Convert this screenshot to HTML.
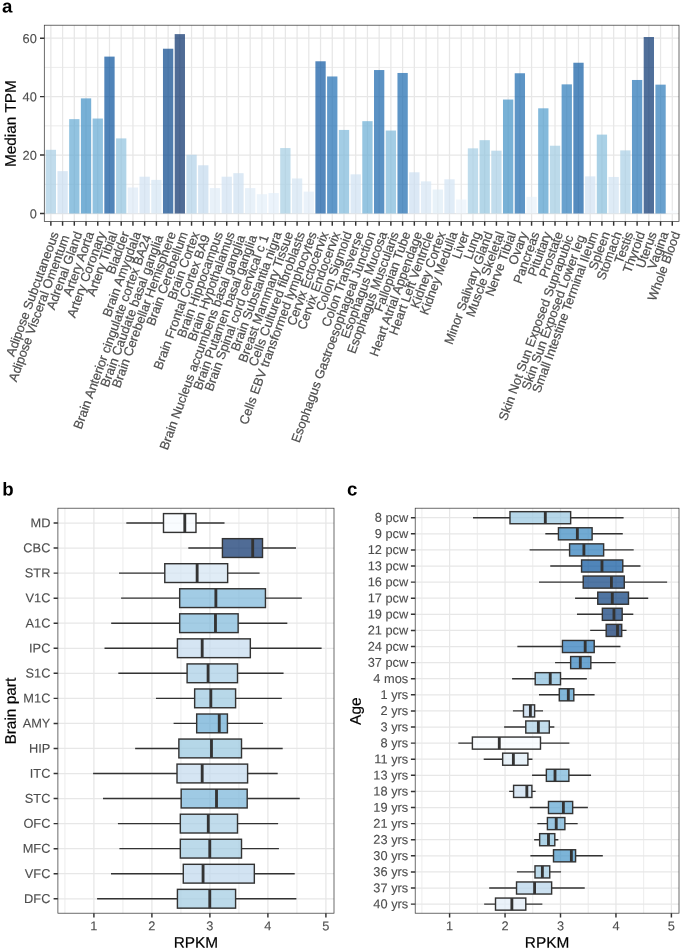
<!DOCTYPE html>
<html lang="en"><head><meta charset="utf-8"><title>Figure</title>
<style>html,body{margin:0;padding:0;background:#fff}svg{display:block}</style></head>
<body>
<svg width="685" height="951" viewBox="0 0 685 951" text-rendering="geometricPrecision">
<rect width="685" height="951" fill="#fff"/>
<rect x="44.3" y="25.2" width="634.7" height="196.2" fill="#fff"/>
<path d="M44.3 184.28H679.0M44.3 125.85H679.0M44.3 67.41H679.0" stroke="#e7e7e7" stroke-width="0.8" fill="none"/>
<path d="M44.3 213.5H679.0M44.3 155.07H679.0M44.3 96.63H679.0M44.3 38.2H679.0M50.86 25.2V221.4M62.59 25.2V221.4M74.31 25.2V221.4M86.03 25.2V221.4M97.76 25.2V221.4M109.48 25.2V221.4M121.21 25.2V221.4M132.94 25.2V221.4M144.66 25.2V221.4M156.38 25.2V221.4M168.11 25.2V221.4M179.83 25.2V221.4M191.56 25.2V221.4M203.28 25.2V221.4M215.01 25.2V221.4M226.74 25.2V221.4M238.46 25.2V221.4M250.19 25.2V221.4M261.91 25.2V221.4M273.63 25.2V221.4M285.36 25.2V221.4M297.08 25.2V221.4M308.81 25.2V221.4M320.54 25.2V221.4M332.26 25.2V221.4M343.99 25.2V221.4M355.71 25.2V221.4M367.44 25.2V221.4M379.16 25.2V221.4M390.88 25.2V221.4M402.61 25.2V221.4M414.33 25.2V221.4M426.06 25.2V221.4M437.79 25.2V221.4M449.51 25.2V221.4M461.24 25.2V221.4M472.96 25.2V221.4M484.69 25.2V221.4M496.41 25.2V221.4M508.13 25.2V221.4M519.86 25.2V221.4M531.58 25.2V221.4M543.31 25.2V221.4M555.03 25.2V221.4M566.76 25.2V221.4M578.49 25.2V221.4M590.21 25.2V221.4M601.93 25.2V221.4M613.66 25.2V221.4M625.38 25.2V221.4M637.11 25.2V221.4M648.84 25.2V221.4M660.56 25.2V221.4M672.28 25.2V221.4" stroke="#e7e7e7" stroke-width="1.25" fill="none"/>
<g fill-opacity="0.71">
<rect x="45.71" y="149.81" width="10.3" height="63.69" fill="#a8cee4"/>
<rect x="57.44" y="171.14" width="10.3" height="42.36" fill="#cbdef1"/>
<rect x="69.16" y="119.13" width="10.3" height="94.37" fill="#65aad4"/>
<rect x="80.88" y="98.39" width="10.3" height="115.11" fill="#3f8fc5"/>
<rect x="92.61" y="118.54" width="10.3" height="94.96" fill="#64a9d3"/>
<rect x="104.33" y="56.6" width="10.3" height="156.9" fill="#08529c"/>
<rect x="116.06" y="138.41" width="10.3" height="75.09" fill="#90c2de"/>
<rect x="127.78" y="187.5" width="10.3" height="26" fill="#ddeaf7"/>
<rect x="139.51" y="176.69" width="10.3" height="36.81" fill="#d1e2f3"/>
<rect x="151.23" y="179.9" width="10.3" height="33.6" fill="#d5e5f4"/>
<rect x="162.96" y="48.72" width="10.3" height="164.78" fill="#08468b"/>
<rect x="174.68" y="34.11" width="10.3" height="179.39" fill="#08306b"/>
<rect x="186.41" y="154.77" width="10.3" height="58.73" fill="#b1d2e8"/>
<rect x="198.13" y="165.29" width="10.3" height="48.21" fill="#c4daee"/>
<rect x="209.86" y="188.08" width="10.3" height="25.42" fill="#deebf7"/>
<rect x="221.59" y="176.69" width="10.3" height="36.81" fill="#d1e2f3"/>
<rect x="233.31" y="173.18" width="10.3" height="40.32" fill="#cde0f1"/>
<rect x="245.03" y="188.08" width="10.3" height="25.42" fill="#deebf7"/>
<rect x="256.76" y="194.22" width="10.3" height="19.28" fill="#e4eff9"/>
<rect x="268.49" y="193.05" width="10.3" height="20.45" fill="#e3eef9"/>
<rect x="280.21" y="148.05" width="10.3" height="65.45" fill="#a5cde3"/>
<rect x="291.94" y="178.44" width="10.3" height="35.06" fill="#d3e4f3"/>
<rect x="303.66" y="191.59" width="10.3" height="21.91" fill="#e1edf8"/>
<rect x="315.39" y="61.28" width="10.3" height="152.22" fill="#0e58a2"/>
<rect x="327.11" y="76.47" width="10.3" height="137.03" fill="#1f6eb3"/>
<rect x="338.84" y="129.94" width="10.3" height="83.56" fill="#7db8da"/>
<rect x="350.56" y="174.35" width="10.3" height="39.15" fill="#cfe1f2"/>
<rect x="362.29" y="121.17" width="10.3" height="92.33" fill="#69add5"/>
<rect x="374.01" y="70.04" width="10.3" height="143.46" fill="#1865ac"/>
<rect x="385.74" y="130.52" width="10.3" height="82.98" fill="#7eb8da"/>
<rect x="397.46" y="72.97" width="10.3" height="140.53" fill="#1b69af"/>
<rect x="409.19" y="172.3" width="10.3" height="41.2" fill="#ccdff1"/>
<rect x="420.91" y="181.36" width="10.3" height="32.14" fill="#d6e6f4"/>
<rect x="432.64" y="189.54" width="10.3" height="23.96" fill="#dfecf7"/>
<rect x="444.36" y="179.32" width="10.3" height="34.18" fill="#d4e4f4"/>
<rect x="456.09" y="199.48" width="10.3" height="14.02" fill="#eaf3fb"/>
<rect x="467.81" y="148.35" width="10.3" height="65.15" fill="#a5cde4"/>
<rect x="479.54" y="140.17" width="10.3" height="73.33" fill="#94c5df"/>
<rect x="491.26" y="150.68" width="10.3" height="62.82" fill="#a9cfe5"/>
<rect x="502.99" y="99.55" width="10.3" height="113.95" fill="#4191c5"/>
<rect x="514.71" y="73.26" width="10.3" height="140.24" fill="#1b6aaf"/>
<rect x="526.43" y="196.85" width="10.3" height="16.65" fill="#e7f1fa"/>
<rect x="538.16" y="108.32" width="10.3" height="105.18" fill="#519ccc"/>
<rect x="549.88" y="145.72" width="10.3" height="67.78" fill="#a0cbe2"/>
<rect x="561.61" y="84.36" width="10.3" height="129.14" fill="#2a7aba"/>
<rect x="573.34" y="62.74" width="10.3" height="150.76" fill="#0f5ba3"/>
<rect x="585.06" y="176.39" width="10.3" height="37.11" fill="#d1e2f3"/>
<rect x="596.78" y="134.61" width="10.3" height="78.89" fill="#87bedc"/>
<rect x="608.51" y="176.98" width="10.3" height="36.52" fill="#d1e3f3"/>
<rect x="620.24" y="150.39" width="10.3" height="63.11" fill="#a9cfe5"/>
<rect x="631.96" y="79.98" width="10.3" height="133.52" fill="#2474b6"/>
<rect x="643.69" y="37.03" width="10.3" height="176.47" fill="#083471"/>
<rect x="655.41" y="84.65" width="10.3" height="128.85" fill="#2b7bba"/>
<rect x="667.13" y="210.58" width="10.3" height="2.92" fill="#f7fbff"/>
</g>
<rect x="44.3" y="25.2" width="634.7" height="196.2" fill="none" stroke="#333333" stroke-width="0.72"/>
<path d="M40 213.5H44.3M40 155.07H44.3M40 96.63H44.3M40 38.2H44.3M50.86 221.4V225.8M62.59 221.4V225.8M74.31 221.4V225.8M86.03 221.4V225.8M97.76 221.4V225.8M109.48 221.4V225.8M121.21 221.4V225.8M132.94 221.4V225.8M144.66 221.4V225.8M156.38 221.4V225.8M168.11 221.4V225.8M179.83 221.4V225.8M191.56 221.4V225.8M203.28 221.4V225.8M215.01 221.4V225.8M226.74 221.4V225.8M238.46 221.4V225.8M250.19 221.4V225.8M261.91 221.4V225.8M273.63 221.4V225.8M285.36 221.4V225.8M297.08 221.4V225.8M308.81 221.4V225.8M320.54 221.4V225.8M332.26 221.4V225.8M343.99 221.4V225.8M355.71 221.4V225.8M367.44 221.4V225.8M379.16 221.4V225.8M390.88 221.4V225.8M402.61 221.4V225.8M414.33 221.4V225.8M426.06 221.4V225.8M437.79 221.4V225.8M449.51 221.4V225.8M461.24 221.4V225.8M472.96 221.4V225.8M484.69 221.4V225.8M496.41 221.4V225.8M508.13 221.4V225.8M519.86 221.4V225.8M531.58 221.4V225.8M543.31 221.4V225.8M555.03 221.4V225.8M566.76 221.4V225.8M578.49 221.4V225.8M590.21 221.4V225.8M601.93 221.4V225.8M613.66 221.4V225.8M625.38 221.4V225.8M637.11 221.4V225.8M648.84 221.4V225.8M660.56 221.4V225.8M672.28 221.4V225.8" stroke="#333333" stroke-width="1.45" fill="none"/>
<g font-family="Liberation Sans, Arial, Helvetica, sans-serif" font-size="12.8" fill="#4d4d4d" stroke="#4d4d4d" stroke-width="0.12" text-anchor="end">
<text transform="translate(36.8 218.2) rotate(0.05)">0</text>
<text transform="translate(36.8 159.77) rotate(0.05)">20</text>
<text transform="translate(36.8 101.33) rotate(0.05)">40</text>
<text transform="translate(36.8 42.9) rotate(0.05)">60</text>
</g>
<g font-family="Liberation Sans, Arial, Helvetica, sans-serif" font-size="12.8" fill="#4d4d4d" stroke="#4d4d4d" stroke-width="0.2" text-anchor="end">
<text transform="translate(50.46 230.5) rotate(-70)" y="9.1">Adipose Subcutaneous</text>
<text transform="translate(62.19 230.5) rotate(-70)" x="-3.5" y="9.1">Adipose Visceral Omentum</text>
<text transform="translate(73.91 230.5) rotate(-70)" y="9.1">Adrenal Gland</text>
<text transform="translate(85.63 230.5) rotate(-70)" y="9.1">Artery Aorta</text>
<text transform="translate(97.36 230.5) rotate(-70)" y="9.1">Artery Coronary</text>
<text transform="translate(109.08 230.5) rotate(-70)" y="9.1">Artery Tibial</text>
<text transform="translate(120.81 230.5) rotate(-70)" y="9.1">Bladder</text>
<text transform="translate(132.53 230.5) rotate(-70)" y="9.1">Brain Amygdala</text>
<text transform="translate(144.26 230.5) rotate(-70)" x="-3.5" y="9.1">Brain Anterior cingulate cortex BA24</text>
<text transform="translate(155.98 230.5) rotate(-70)" x="-3.5" y="9.1">Brain Caudate basal ganglia</text>
<text transform="translate(167.71 230.5) rotate(-70)" y="9.1">Brain Cerebellar Hemisphere</text>
<text transform="translate(179.43 230.5) rotate(-70)" y="9.1">Brain Cerebellum</text>
<text transform="translate(191.16 230.5) rotate(-70)" y="9.1">Brain Cortex</text>
<text transform="translate(202.88 230.5) rotate(-70)" x="-3.5" y="9.1">Brain Frontal Cortex BA9</text>
<text transform="translate(214.61 230.5) rotate(-70)" y="9.1">Brain Hippocampus</text>
<text transform="translate(226.34 230.5) rotate(-70)" y="9.1">Brain Hypothalamus</text>
<text transform="translate(238.06 230.5) rotate(-70)" x="-3.5" y="9.1">Brain Nucleus accumbens basal ganglia</text>
<text transform="translate(249.78 230.5) rotate(-70)" x="-3.5" y="9.1">Brain Putamen basal ganglia</text>
<text transform="translate(261.51 230.5) rotate(-70)" x="-3.5" y="9.1">Brain Spinal cord cervical c 1</text>
<text transform="translate(273.24 230.5) rotate(-70)" y="9.1">Brain Substantia nigra</text>
<text transform="translate(284.96 230.5) rotate(-70)" y="9.1">Breast Mammary Tissue</text>
<text transform="translate(296.69 230.5) rotate(-70)" y="9.1">Cells Cultured fibroblasts</text>
<text transform="translate(308.41 230.5) rotate(-70)" y="9.1">Cells EBV transformed lymphocytes</text>
<text transform="translate(320.14 230.5) rotate(-70)" y="9.1">Cervix Ectocervix</text>
<text transform="translate(331.86 230.5) rotate(-70)" y="9.1">Cervix Endocervix</text>
<text transform="translate(343.59 230.5) rotate(-70)" y="9.1">Colon Sigmoid</text>
<text transform="translate(355.31 230.5) rotate(-70)" y="9.1">Colon Transverse</text>
<text transform="translate(367.04 230.5) rotate(-70)" y="9.1">Esophagus Gastroesophageal Junction</text>
<text transform="translate(378.76 230.5) rotate(-70)" y="9.1">Esophagus Mucosa</text>
<text transform="translate(390.49 230.5) rotate(-70)" y="9.1">Esophagus Muscularis</text>
<text transform="translate(402.21 230.5) rotate(-70)" y="9.1">Fallopian Tube</text>
<text transform="translate(413.94 230.5) rotate(-70)" y="9.1">Heart Atrial Appendage</text>
<text transform="translate(425.66 230.5) rotate(-70)" y="9.1">Heart Left Ventricle</text>
<text transform="translate(437.39 230.5) rotate(-70)" y="9.1">Kidney Cortex</text>
<text transform="translate(449.11 230.5) rotate(-70)" y="9.1">Kidney Medulla</text>
<text transform="translate(460.84 230.5) rotate(-70)" y="9.1">Liver</text>
<text transform="translate(472.56 230.5) rotate(-70)" y="9.1">Lung</text>
<text transform="translate(484.29 230.5) rotate(-70)" y="9.1">Minor Salivary Gland</text>
<text transform="translate(496.01 230.5) rotate(-70)" y="9.1">Muscle Skeletal</text>
<text transform="translate(507.74 230.5) rotate(-70)" y="9.1">Nerve Tibial</text>
<text transform="translate(519.46 230.5) rotate(-70)" y="9.1">Ovary</text>
<text transform="translate(531.18 230.5) rotate(-70)" y="9.1">Pancreas</text>
<text transform="translate(542.91 230.5) rotate(-70)" y="9.1">Pituitary</text>
<text transform="translate(554.63 230.5) rotate(-70)" y="9.1">Prostate</text>
<text transform="translate(566.36 230.5) rotate(-70)" x="-3.5" y="9.1">Skin Not Sun Exposed Suprapubic</text>
<text transform="translate(578.09 230.5) rotate(-70)" x="-3.5" y="9.1">Skin Sun Exposed Lower leg</text>
<text transform="translate(589.81 230.5) rotate(-70)" y="9.1">Small Intestine Terminal Ileum</text>
<text transform="translate(601.53 230.5) rotate(-70)" y="9.1">Spleen</text>
<text transform="translate(613.26 230.5) rotate(-70)" y="9.1">Stomach</text>
<text transform="translate(624.99 230.5) rotate(-70)" y="9.1">Testis</text>
<text transform="translate(636.71 230.5) rotate(-70)" y="9.1">Thyroid</text>
<text transform="translate(648.44 230.5) rotate(-70)" y="9.1">Uterus</text>
<text transform="translate(660.16 230.5) rotate(-70)" y="9.1">Vagina</text>
<text transform="translate(671.88 230.5) rotate(-70)" y="9.1">Whole Blood</text>
</g>
<text font-family="Liberation Sans, Arial, Helvetica, sans-serif" font-size="15.4" fill="#000" stroke="#000" stroke-width="0.2" text-anchor="middle" transform="translate(15.8 123.6) rotate(-89.95)">Median TPM</text>
<text font-family="Liberation Sans, Arial, Helvetica, sans-serif" font-size="18.67" font-weight="bold" fill="#000" transform="translate(2.1 12.5) rotate(0.05)">a</text>
<rect x="57.9" y="508.2" width="276.1" height="405" fill="#fff"/>
<path d="M64.9 508.2V913.2M122.9 508.2V913.2M180.9 508.2V913.2M238.9 508.2V913.2M296.9 508.2V913.2" stroke="#e7e7e7" stroke-width="0.8" fill="none"/>
<path d="M93.9 508.2V913.2M151.9 508.2V913.2M209.9 508.2V913.2M267.9 508.2V913.2M325.9 508.2V913.2M57.9 523H334.0M57.9 548.05H334.0M57.9 573.1H334.0M57.9 598.15H334.0M57.9 623.2H334.0M57.9 648.25H334.0M57.9 673.3H334.0M57.9 698.35H334.0M57.9 723.4H334.0M57.9 748.45H334.0M57.9 773.5H334.0M57.9 798.55H334.0M57.9 823.6H334.0M57.9 848.65H334.0M57.9 873.7H334.0M57.9 898.75H334.0" stroke="#e7e7e7" stroke-width="1.25" fill="none"/>
<path d="M126.32 523H163.5M195.98 523H224.52" stroke="#333333" stroke-width="1.42" fill="none"/>
<rect x="163.5" y="513.61" width="32.48" height="18.79" fill="#f7fbff" fill-opacity="0.71" stroke="#333333" stroke-width="1.42"/>
<path d="M184.79 513.61V532.39" stroke="#333333" stroke-width="2.85" fill="none"/>
<path d="M188.32 548.05H222.43M262.51 548.05H295.97" stroke="#333333" stroke-width="1.42" fill="none"/>
<rect x="222.43" y="538.66" width="40.08" height="18.79" fill="#08306b" fill-opacity="0.71" stroke="#333333" stroke-width="1.42"/>
<path d="M252.7 538.66V557.44" stroke="#333333" stroke-width="2.85" fill="none"/>
<path d="M119.01 573.1H164.78M227.65 573.1H259.61" stroke="#333333" stroke-width="1.42" fill="none"/>
<rect x="164.78" y="563.71" width="62.87" height="18.79" fill="#d3e4f3" fill-opacity="0.71" stroke="#333333" stroke-width="1.42"/>
<path d="M197.14 563.71V582.49" stroke="#333333" stroke-width="2.85" fill="none"/>
<path d="M121.1 598.15H179.68M265.46 598.15H301.83" stroke="#333333" stroke-width="1.42" fill="none"/>
<rect x="179.68" y="588.76" width="85.78" height="18.79" fill="#7cb7da" fill-opacity="0.71" stroke="#333333" stroke-width="1.42"/>
<path d="M215.87 588.76V607.54" stroke="#333333" stroke-width="2.85" fill="none"/>
<path d="M111.18 623.2H179.68M238.15 623.2H287.33" stroke="#333333" stroke-width="1.42" fill="none"/>
<rect x="179.68" y="613.81" width="58.46" height="18.79" fill="#7fb9da" fill-opacity="0.71" stroke="#333333" stroke-width="1.42"/>
<path d="M215.47 613.81V632.59" stroke="#333333" stroke-width="2.85" fill="none"/>
<path d="M104.51 648.25H177.42M250.33 648.25H321.61" stroke="#333333" stroke-width="1.42" fill="none"/>
<rect x="177.42" y="638.86" width="72.91" height="18.79" fill="#c4daee" fill-opacity="0.71" stroke="#333333" stroke-width="1.42"/>
<path d="M202.19 638.86V657.64" stroke="#333333" stroke-width="2.85" fill="none"/>
<path d="M118.32 673.3H187.11M237.51 673.3H283.56" stroke="#333333" stroke-width="1.42" fill="none"/>
<rect x="187.11" y="663.91" width="50.4" height="18.79" fill="#a8cee5" fill-opacity="0.71" stroke="#333333" stroke-width="1.42"/>
<path d="M208.1 663.91V682.69" stroke="#333333" stroke-width="2.85" fill="none"/>
<path d="M155.96 698.35H194.65M235.59 698.35H281.82" stroke="#333333" stroke-width="1.42" fill="none"/>
<rect x="194.65" y="688.96" width="40.95" height="18.79" fill="#9bc8e0" fill-opacity="0.71" stroke="#333333" stroke-width="1.42"/>
<path d="M210.83 688.96V707.74" stroke="#333333" stroke-width="2.85" fill="none"/>
<path d="M173.59 723.4H196.68M227.42 723.4H262.97" stroke="#333333" stroke-width="1.42" fill="none"/>
<rect x="196.68" y="714.01" width="30.74" height="18.79" fill="#69acd5" fill-opacity="0.71" stroke="#333333" stroke-width="1.42"/>
<path d="M219.24 714.01V732.79" stroke="#333333" stroke-width="2.85" fill="none"/>
<path d="M135.14 748.45H178.87M241.51 748.45H282.69" stroke="#333333" stroke-width="1.42" fill="none"/>
<rect x="178.87" y="739.06" width="62.64" height="18.79" fill="#97c6df" fill-opacity="0.71" stroke="#333333" stroke-width="1.42"/>
<path d="M211.47 739.06V757.84" stroke="#333333" stroke-width="2.85" fill="none"/>
<path d="M93.09 773.5H177.01M247.6 773.5H277.7" stroke="#333333" stroke-width="1.42" fill="none"/>
<rect x="177.01" y="764.11" width="70.59" height="18.79" fill="#c4daee" fill-opacity="0.71" stroke="#333333" stroke-width="1.42"/>
<path d="M202.19 764.11V782.89" stroke="#333333" stroke-width="2.85" fill="none"/>
<path d="M103.01 798.55H181.19M247.19 798.55H299.74" stroke="#333333" stroke-width="1.42" fill="none"/>
<rect x="181.19" y="789.16" width="66" height="18.79" fill="#78b5d9" fill-opacity="0.71" stroke="#333333" stroke-width="1.42"/>
<path d="M216.51 789.16V807.94" stroke="#333333" stroke-width="2.85" fill="none"/>
<path d="M117.91 823.6H180.32M237.51 823.6H278.11" stroke="#333333" stroke-width="1.42" fill="none"/>
<rect x="180.32" y="814.21" width="57.19" height="18.79" fill="#a7cee4" fill-opacity="0.71" stroke="#333333" stroke-width="1.42"/>
<path d="M208.28 814.21V832.99" stroke="#333333" stroke-width="2.85" fill="none"/>
<path d="M119.42 848.65H180.32M241.51 848.65H278.92" stroke="#333333" stroke-width="1.42" fill="none"/>
<rect x="180.32" y="839.26" width="61.19" height="18.79" fill="#a0cbe2" fill-opacity="0.71" stroke="#333333" stroke-width="1.42"/>
<path d="M209.78 839.26V858.04" stroke="#333333" stroke-width="2.85" fill="none"/>
<path d="M111.01 873.7H183.28M254.33 873.7H294.7" stroke="#333333" stroke-width="1.42" fill="none"/>
<rect x="183.28" y="864.31" width="71.05" height="18.79" fill="#c0d8ed" fill-opacity="0.71" stroke="#333333" stroke-width="1.42"/>
<path d="M203.06 864.31V883.09" stroke="#333333" stroke-width="2.85" fill="none"/>
<path d="M97.09 898.75H177.42M235.59 898.75H296.38" stroke="#333333" stroke-width="1.42" fill="none"/>
<rect x="177.42" y="889.36" width="58.17" height="18.79" fill="#a0cbe2" fill-opacity="0.71" stroke="#333333" stroke-width="1.42"/>
<path d="M209.78 889.36V908.14" stroke="#333333" stroke-width="2.85" fill="none"/>
<rect x="57.9" y="508.2" width="276.1" height="405" fill="none" stroke="#333333" stroke-width="0.72"/>
<path d="M93.9 913.2V917.4M151.9 913.2V917.4M209.9 913.2V917.4M267.9 913.2V917.4M325.9 913.2V917.4M53.6 523H57.9M53.6 548.05H57.9M53.6 573.1H57.9M53.6 598.15H57.9M53.6 623.2H57.9M53.6 648.25H57.9M53.6 673.3H57.9M53.6 698.35H57.9M53.6 723.4H57.9M53.6 748.45H57.9M53.6 773.5H57.9M53.6 798.55H57.9M53.6 823.6H57.9M53.6 848.65H57.9M53.6 873.7H57.9M53.6 898.75H57.9" stroke="#333333" stroke-width="1.45" fill="none"/>
<g font-family="Liberation Sans, Arial, Helvetica, sans-serif" font-size="12.8" fill="#4d4d4d" stroke="#4d4d4d" stroke-width="0.12" text-anchor="end">
<text transform="translate(50.4 527.2) rotate(0.05)">MD</text>
<text transform="translate(50.4 552.25) rotate(0.05)">CBC</text>
<text transform="translate(50.4 577.3) rotate(0.05)">STR</text>
<text transform="translate(50.4 602.35) rotate(0.05)">V1C</text>
<text transform="translate(50.4 627.4) rotate(0.05)">A1C</text>
<text transform="translate(50.4 652.45) rotate(0.05)">IPC</text>
<text transform="translate(50.4 677.5) rotate(0.05)">S1C</text>
<text transform="translate(50.4 702.55) rotate(0.05)">M1C</text>
<text transform="translate(50.4 727.6) rotate(0.05)">AMY</text>
<text transform="translate(50.4 752.65) rotate(0.05)">HIP</text>
<text transform="translate(50.4 777.7) rotate(0.05)">ITC</text>
<text transform="translate(50.4 802.75) rotate(0.05)">STC</text>
<text transform="translate(50.4 827.8) rotate(0.05)">OFC</text>
<text transform="translate(50.4 852.85) rotate(0.05)">MFC</text>
<text transform="translate(50.4 877.9) rotate(0.05)">VFC</text>
<text transform="translate(50.4 902.95) rotate(0.05)">DFC</text>
</g>
<g font-family="Liberation Sans, Arial, Helvetica, sans-serif" font-size="12.8" fill="#4d4d4d" stroke="#4d4d4d" stroke-width="0.12" text-anchor="middle">
<text transform="translate(93.9 930.2) rotate(0.05)">1</text>
<text transform="translate(151.9 930.2) rotate(0.05)">2</text>
<text transform="translate(209.9 930.2) rotate(0.05)">3</text>
<text transform="translate(267.9 930.2) rotate(0.05)">4</text>
<text transform="translate(325.9 930.2) rotate(0.05)">5</text>
</g>
<text font-family="Liberation Sans, Arial, Helvetica, sans-serif" font-size="15.4" fill="#000" stroke="#000" stroke-width="0.2" text-anchor="middle" transform="translate(195.95 947.7) rotate(0.05)">RPKM</text>
<text font-family="Liberation Sans, Arial, Helvetica, sans-serif" font-size="15.4" fill="#000" stroke="#000" stroke-width="0.2" text-anchor="middle" transform="translate(15.8 711.2) rotate(-89.95)">Brain part</text>
<text font-family="Liberation Sans, Arial, Helvetica, sans-serif" font-size="18.67" font-weight="bold" fill="#000" transform="translate(2.2 495.4) rotate(0.05)">b</text>
<rect x="415.2" y="508.2" width="263.8" height="405" fill="#fff"/>
<path d="M421.88 508.2V913.2M477.32 508.2V913.2M532.77 508.2V913.2M588.23 508.2V913.2M643.67 508.2V913.2" stroke="#e7e7e7" stroke-width="0.8" fill="none"/>
<path d="M449.6 508.2V913.2M505.05 508.2V913.2M560.5 508.2V913.2M615.95 508.2V913.2M671.4 508.2V913.2M415.2 517.7H679.0M415.2 533.8H679.0M415.2 549.9H679.0M415.2 566H679.0M415.2 582.1H679.0M415.2 598.2H679.0M415.2 614.3H679.0M415.2 630.4H679.0M415.2 646.5H679.0M415.2 662.6H679.0M415.2 678.7H679.0M415.2 694.8H679.0M415.2 710.9H679.0M415.2 727H679.0M415.2 743.1H679.0M415.2 759.2H679.0M415.2 775.3H679.0M415.2 791.4H679.0M415.2 807.5H679.0M415.2 823.6H679.0M415.2 839.7H679.0M415.2 855.8H679.0M415.2 871.9H679.0M415.2 888H679.0M415.2 904.1H679.0" stroke="#e7e7e7" stroke-width="1.25" fill="none"/>
<path d="M473 517.7H509.99M570.65 517.7H623.6" stroke="#333333" stroke-width="1.42" fill="none"/>
<rect x="509.99" y="511.66" width="60.66" height="12.08" fill="#98c7e0" fill-opacity="0.71" stroke="#333333" stroke-width="1.42"/>
<path d="M545.31 511.66V523.74" stroke="#333333" stroke-width="2.85" fill="none"/>
<path d="M545.31 533.8H558.45M592.11 533.8H622.77" stroke="#333333" stroke-width="1.42" fill="none"/>
<rect x="558.45" y="527.76" width="33.66" height="12.08" fill="#3989c1" fill-opacity="0.71" stroke="#333333" stroke-width="1.42"/>
<path d="M577.36 527.76V539.84" stroke="#333333" stroke-width="2.85" fill="none"/>
<path d="M529.61 549.9H569.59M603.64 549.9H633.69" stroke="#333333" stroke-width="1.42" fill="none"/>
<rect x="569.59" y="543.86" width="34.05" height="12.08" fill="#2a7aba" fill-opacity="0.71" stroke="#333333" stroke-width="1.42"/>
<path d="M583.9 543.86V555.94" stroke="#333333" stroke-width="2.85" fill="none"/>
<path d="M550.24 566H581.57M622.77 566H640.46" stroke="#333333" stroke-width="1.42" fill="none"/>
<rect x="581.57" y="559.96" width="41.2" height="12.08" fill="#09539d" fill-opacity="0.71" stroke="#333333" stroke-width="1.42"/>
<path d="M601.98 559.96V572.04" stroke="#333333" stroke-width="2.85" fill="none"/>
<path d="M538.99 582.1H583.23M624.27 582.1H667.13" stroke="#333333" stroke-width="1.42" fill="none"/>
<rect x="583.23" y="576.06" width="41.03" height="12.08" fill="#083e7f" fill-opacity="0.71" stroke="#333333" stroke-width="1.42"/>
<path d="M611.4 576.06V588.14" stroke="#333333" stroke-width="2.85" fill="none"/>
<path d="M575.08 598.2H597.76M628.48 598.2H648.22" stroke="#333333" stroke-width="1.42" fill="none"/>
<rect x="597.76" y="592.16" width="30.72" height="12.08" fill="#083c7c" fill-opacity="0.71" stroke="#333333" stroke-width="1.42"/>
<path d="M612.29 592.16V604.24" stroke="#333333" stroke-width="2.85" fill="none"/>
<path d="M576.97 614.3H602.36M622.16 614.3H633.31" stroke="#333333" stroke-width="1.42" fill="none"/>
<rect x="602.36" y="608.26" width="19.8" height="12.08" fill="#083877" fill-opacity="0.71" stroke="#333333" stroke-width="1.42"/>
<path d="M613.95 608.26V620.34" stroke="#333333" stroke-width="2.85" fill="none"/>
<path d="M590.17 630.4H606.19M621.72 630.4H626.54" stroke="#333333" stroke-width="1.42" fill="none"/>
<rect x="606.19" y="624.36" width="15.53" height="12.08" fill="#08306b" fill-opacity="0.71" stroke="#333333" stroke-width="1.42"/>
<path d="M617.5 624.36V636.44" stroke="#333333" stroke-width="2.85" fill="none"/>
<path d="M517.36 646.5H562.44M594.21 646.5H620.44" stroke="#333333" stroke-width="1.42" fill="none"/>
<rect x="562.44" y="640.46" width="31.77" height="12.08" fill="#2777b8" fill-opacity="0.71" stroke="#333333" stroke-width="1.42"/>
<path d="M585.18 640.46V652.54" stroke="#333333" stroke-width="2.85" fill="none"/>
<path d="M555.07 662.6H570.65M590.83 662.6H615.62" stroke="#333333" stroke-width="1.42" fill="none"/>
<rect x="570.65" y="656.56" width="20.18" height="12.08" fill="#3282be" fill-opacity="0.71" stroke="#333333" stroke-width="1.42"/>
<path d="M580.3 656.56V668.64" stroke="#333333" stroke-width="2.85" fill="none"/>
<path d="M512.09 678.7H535.21M560.5 678.7H586.84" stroke="#333333" stroke-width="1.42" fill="none"/>
<rect x="535.21" y="672.66" width="25.29" height="12.08" fill="#87bddc" fill-opacity="0.71" stroke="#333333" stroke-width="1.42"/>
<path d="M550.24 672.66V684.74" stroke="#333333" stroke-width="2.85" fill="none"/>
<path d="M538.99 694.8H559.28M573.81 694.8H594.6" stroke="#333333" stroke-width="1.42" fill="none"/>
<rect x="559.28" y="688.76" width="14.53" height="12.08" fill="#4f9bcb" fill-opacity="0.71" stroke="#333333" stroke-width="1.42"/>
<path d="M568.32 688.76V700.84" stroke="#333333" stroke-width="2.85" fill="none"/>
<path d="M512.92 710.9H523.46M534.6 710.9H543.03" stroke="#333333" stroke-width="1.42" fill="none"/>
<rect x="523.46" y="704.86" width="11.15" height="12.08" fill="#c2d9ee" fill-opacity="0.71" stroke="#333333" stroke-width="1.42"/>
<path d="M530.39 704.86V716.94" stroke="#333333" stroke-width="2.85" fill="none"/>
<path d="M504.11 727H525.79M549.3 727H554.35" stroke="#333333" stroke-width="1.42" fill="none"/>
<rect x="525.79" y="720.96" width="23.51" height="12.08" fill="#acd0e6" fill-opacity="0.71" stroke="#333333" stroke-width="1.42"/>
<path d="M538.38 720.96V733.04" stroke="#333333" stroke-width="2.85" fill="none"/>
<path d="M458.31 743.1H472.39M540.48 743.1H569.37" stroke="#333333" stroke-width="1.42" fill="none"/>
<rect x="472.39" y="737.06" width="68.09" height="12.08" fill="#f7fbff" fill-opacity="0.71" stroke="#333333" stroke-width="1.42"/>
<path d="M499.28 737.06V749.14" stroke="#333333" stroke-width="2.85" fill="none"/>
<path d="M483.7 759.2H502.67M527.9 759.2H532.5" stroke="#333333" stroke-width="1.42" fill="none"/>
<rect x="502.67" y="753.16" width="25.23" height="12.08" fill="#dfecf7" fill-opacity="0.71" stroke="#333333" stroke-width="1.42"/>
<path d="M513.37 753.16V765.24" stroke="#333333" stroke-width="2.85" fill="none"/>
<path d="M532.05 775.3H546.36M568.87 775.3H591.05" stroke="#333333" stroke-width="1.42" fill="none"/>
<rect x="546.36" y="769.26" width="22.51" height="12.08" fill="#77b4d9" fill-opacity="0.71" stroke="#333333" stroke-width="1.42"/>
<path d="M555.01 769.26V781.34" stroke="#333333" stroke-width="2.85" fill="none"/>
<path d="M509.15 791.4H513.59M531.89 791.4H535.66" stroke="#333333" stroke-width="1.42" fill="none"/>
<rect x="513.59" y="785.36" width="18.3" height="12.08" fill="#c9ddf0" fill-opacity="0.71" stroke="#333333" stroke-width="1.42"/>
<path d="M526.84 785.36V797.44" stroke="#333333" stroke-width="2.85" fill="none"/>
<path d="M529.78 807.5H548.47M572.64 807.5H587.89" stroke="#333333" stroke-width="1.42" fill="none"/>
<rect x="548.47" y="801.46" width="24.18" height="12.08" fill="#5da5d1" fill-opacity="0.71" stroke="#333333" stroke-width="1.42"/>
<path d="M563.38 801.46V813.54" stroke="#333333" stroke-width="2.85" fill="none"/>
<path d="M537.32 823.6H547.41M564.88 823.6H577.69" stroke="#333333" stroke-width="1.42" fill="none"/>
<rect x="547.41" y="817.56" width="17.47" height="12.08" fill="#72b2d8" fill-opacity="0.71" stroke="#333333" stroke-width="1.42"/>
<path d="M556.23 817.56V829.64" stroke="#333333" stroke-width="2.85" fill="none"/>
<path d="M534.16 839.7H539.65M554.79 839.7H558.34" stroke="#333333" stroke-width="1.42" fill="none"/>
<rect x="539.65" y="833.66" width="15.14" height="12.08" fill="#8dc1dd" fill-opacity="0.71" stroke="#333333" stroke-width="1.42"/>
<path d="M548.47 833.66V845.74" stroke="#333333" stroke-width="2.85" fill="none"/>
<path d="M530.39 855.8H553.51M575.58 855.8H602.81" stroke="#333333" stroke-width="1.42" fill="none"/>
<rect x="553.51" y="849.76" width="22.07" height="12.08" fill="#4795c8" fill-opacity="0.71" stroke="#333333" stroke-width="1.42"/>
<path d="M571.37 849.76V861.84" stroke="#333333" stroke-width="2.85" fill="none"/>
<path d="M516.92 871.9H534.99M549.74 871.9H561.05" stroke="#333333" stroke-width="1.42" fill="none"/>
<rect x="534.99" y="865.86" width="14.75" height="12.08" fill="#a1cbe2" fill-opacity="0.71" stroke="#333333" stroke-width="1.42"/>
<path d="M542.37 865.86V877.94" stroke="#333333" stroke-width="2.85" fill="none"/>
<path d="M489.19 888H516.53M551.63 888H584.73" stroke="#333333" stroke-width="1.42" fill="none"/>
<rect x="516.53" y="881.96" width="35.1" height="12.08" fill="#b6d4ea" fill-opacity="0.71" stroke="#333333" stroke-width="1.42"/>
<path d="M534.6 881.96V894.04" stroke="#333333" stroke-width="2.85" fill="none"/>
<path d="M484.15 904.1H495.51M525.79 904.1H542.37" stroke="#333333" stroke-width="1.42" fill="none"/>
<rect x="495.51" y="898.06" width="30.28" height="12.08" fill="#e2edf8" fill-opacity="0.71" stroke="#333333" stroke-width="1.42"/>
<path d="M511.87 898.06V910.14" stroke="#333333" stroke-width="2.85" fill="none"/>
<rect x="415.2" y="508.2" width="263.8" height="405" fill="none" stroke="#333333" stroke-width="0.72"/>
<path d="M449.6 913.2V917.4M505.05 913.2V917.4M560.5 913.2V917.4M615.95 913.2V917.4M671.4 913.2V917.4M410.9 517.7H415.2M410.9 533.8H415.2M410.9 549.9H415.2M410.9 566H415.2M410.9 582.1H415.2M410.9 598.2H415.2M410.9 614.3H415.2M410.9 630.4H415.2M410.9 646.5H415.2M410.9 662.6H415.2M410.9 678.7H415.2M410.9 694.8H415.2M410.9 710.9H415.2M410.9 727H415.2M410.9 743.1H415.2M410.9 759.2H415.2M410.9 775.3H415.2M410.9 791.4H415.2M410.9 807.5H415.2M410.9 823.6H415.2M410.9 839.7H415.2M410.9 855.8H415.2M410.9 871.9H415.2M410.9 888H415.2M410.9 904.1H415.2" stroke="#333333" stroke-width="1.45" fill="none"/>
<g font-family="Liberation Sans, Arial, Helvetica, sans-serif" font-size="12.8" fill="#4d4d4d" stroke="#4d4d4d" stroke-width="0.12" text-anchor="end">
<text transform="translate(408.2 521.9) rotate(0.05)">8 pcw</text>
<text transform="translate(408.2 538) rotate(0.05)">9 pcw</text>
<text transform="translate(408.2 554.1) rotate(0.05)">12 pcw</text>
<text transform="translate(408.2 570.2) rotate(0.05)">13 pcw</text>
<text transform="translate(408.2 586.3) rotate(0.05)">16 pcw</text>
<text transform="translate(408.2 602.4) rotate(0.05)">17 pcw</text>
<text transform="translate(408.2 618.5) rotate(0.05)">19 pcw</text>
<text transform="translate(408.2 634.6) rotate(0.05)">21 pcw</text>
<text transform="translate(408.2 650.7) rotate(0.05)">24 pcw</text>
<text transform="translate(408.2 666.8) rotate(0.05)">37 pcw</text>
<text transform="translate(408.2 682.9) rotate(0.05)">4 mos</text>
<text transform="translate(408.2 699) rotate(0.05)">1 yrs</text>
<text transform="translate(408.2 715.1) rotate(0.05)">2 yrs</text>
<text transform="translate(408.2 731.2) rotate(0.05)">3 yrs</text>
<text transform="translate(408.2 747.3) rotate(0.05)">8 yrs</text>
<text transform="translate(408.2 763.4) rotate(0.05)">11 yrs</text>
<text transform="translate(408.2 779.5) rotate(0.05)">13 yrs</text>
<text transform="translate(408.2 795.6) rotate(0.05)">18 yrs</text>
<text transform="translate(408.2 811.7) rotate(0.05)">19 yrs</text>
<text transform="translate(408.2 827.8) rotate(0.05)">21 yrs</text>
<text transform="translate(408.2 843.9) rotate(0.05)">23 yrs</text>
<text transform="translate(408.2 860) rotate(0.05)">30 yrs</text>
<text transform="translate(408.2 876.1) rotate(0.05)">36 yrs</text>
<text transform="translate(408.2 892.2) rotate(0.05)">37 yrs</text>
<text transform="translate(408.2 908.3) rotate(0.05)">40 yrs</text>
</g>
<g font-family="Liberation Sans, Arial, Helvetica, sans-serif" font-size="12.8" fill="#4d4d4d" stroke="#4d4d4d" stroke-width="0.12" text-anchor="middle">
<text transform="translate(449.6 930.2) rotate(0.05)">1</text>
<text transform="translate(505.05 930.2) rotate(0.05)">2</text>
<text transform="translate(560.5 930.2) rotate(0.05)">3</text>
<text transform="translate(615.95 930.2) rotate(0.05)">4</text>
<text transform="translate(671.4 930.2) rotate(0.05)">5</text>
</g>
<text font-family="Liberation Sans, Arial, Helvetica, sans-serif" font-size="15.4" fill="#000" stroke="#000" stroke-width="0.2" text-anchor="middle" transform="translate(547.1 947.7) rotate(0.05)">RPKM</text>
<text font-family="Liberation Sans, Arial, Helvetica, sans-serif" font-size="15.4" fill="#000" stroke="#000" stroke-width="0.2" text-anchor="middle" transform="translate(360.7 711.2) rotate(-89.95)">Age</text>
<text font-family="Liberation Sans, Arial, Helvetica, sans-serif" font-size="18.67" font-weight="bold" fill="#000" transform="translate(347.0 495.4) rotate(0.05)">c</text>
</svg>
</body></html>
